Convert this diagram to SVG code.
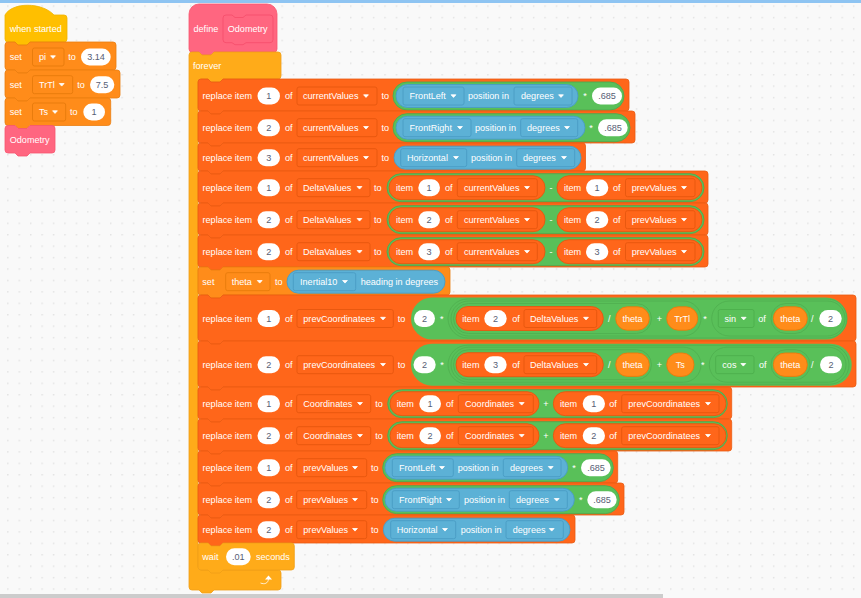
<svg xmlns="http://www.w3.org/2000/svg" width="861" height="598" viewBox="0 0 861 598">
<style>
text{font-family:"Liberation Sans",Arial,sans-serif;font-size:9.1px;fill:#fff}
text.n{fill:#575e75;text-anchor:middle}
text.m{text-anchor:middle}
path{stroke-width:.8}
.L{fill:#ff661a;stroke:#ea5c13}
.V{fill:#ff8c1a;stroke:#ea7d10}
.C{fill:#ffab19;stroke:#f0a016}
.E{fill:#ffbf00;stroke:#f0b400}
.P{fill:#ff6680;stroke:#f7566f}
rect{stroke-width:.9}
.v{y:-8.5px;height:17px;rx:8.5px;ry:8.5px;fill:#fff;stroke:none}
.dl,.dv,.ds,.dg{y:-9px;height:18px;rx:2px;ry:2px}
.dl{fill:#ff661a;stroke:#e6570f}
.dv{fill:#ff8c1a;stroke:#e67a0c}
.ds{fill:#5cb1d6;stroke:#4a9cc4}
.dg{fill:#59c059;stroke:#4caf4c}
.gp{y:-14px;height:28px;rx:14px;ry:14px;fill:#59c059;stroke:#4fa84f}
.bp{y:-11.5px;height:23px;rx:11.5px;ry:11.5px;fill:#5cb1d6;stroke:#4a9cc4}
.op{y:-12px;height:24px;rx:12px;ry:12px;fill:#ff661a;stroke:#e6570f}
.vr{y:-11.7px;height:23.4px;rx:11.7px;ry:11.7px;fill:#ff8c1a;stroke:#e67a0c}
.gb{y:-21px;height:42px;rx:21px;ry:21px;fill:#59c059;stroke:none}
.g1{y:-19.5px;height:39px;rx:19.5px;ry:19.5px;fill:#59c059;stroke:#50b050}
.g2{y:-17.5px;height:35px;rx:17.5px;ry:17.5px;fill:#59c059;stroke:#50b050}
.g3{y:-15px;height:30px;rx:15px;ry:15px;fill:#59c059;stroke:#50b050}
</style>
<defs>
<pattern id="dots" width="11.43" height="11.43" patternUnits="userSpaceOnUse" x="7.1" y="5.4"><rect x=".1" y=".1" width="1.3" height="1.3" fill="#dcdcdc"/></pattern>
<path id="a" d="M-2.4-1.2H2.4L0 1.4z" fill="#fff" stroke="#fff" stroke-width=".8" stroke-linejoin="round"/>
</defs>
<rect width="861" height="598" fill="#f9f9f9"/>
<rect width="861" height="598" fill="url(#dots)"/>
<rect width="861" height="3" fill="#8ec4f2"/>
<rect y="594" width="663" height="4" fill="#cccccc"/>

<g id="when-started"><path class="E" d="M5 15C12 2 42 2 54 15H64a3 3 0 0 1 3 3V39a3 3 0 0 1-3 3H30l-3 3h-9l-3-3H8a3 3 0 0 1-3-3z"/><text x="9.7" y="32">when started</text></g>
<g id="set-pi"><path class="V" d="M5 45a3 3 0 0 1 3-3h7l3 3h9l3-3H113a3 3 0 0 1 3 3V67a3 3 0 0 1-3 3H30l-3 3h-9l-3-3H8a3 3 0 0 1-3-3z"/><g transform="translate(0,57)"><text x="9.7" y="3">set</text><rect class="dv" x="32.5" width="31.5"/><text x="39" y="3">pi</text><use href="#a" x="53"/><text x="68.3" y="3">to</text><rect class="v" x="81" width="29.7"/><text class="n" x="96" y="3">3.14</text></g></g>
<g id="set-trtl"><path class="V" d="M5 73a3 3 0 0 1 3-3h7l3 3h9l3-3H117a3 3 0 0 1 3 3V95a3 3 0 0 1-3 3H30l-3 3h-9l-3-3H8a3 3 0 0 1-3-3z"/><g transform="translate(0,84.7)"><text x="9.7" y="3">set</text><rect class="dv" x="32.5" width="40.2"/><text x="39" y="3">TrTl</text><use href="#a" x="61.7"/><text x="77.3" y="3">to</text><rect class="v" x="90" width="24.3"/><text class="n" x="102" y="3">7.5</text></g></g>
<g id="set-ts"><path class="V" d="M5 101a3 3 0 0 1 3-3h7l3 3h9l3-3H107.700a3 3 0 0 1 3 3V122.500a3 3 0 0 1-3 3H30l-3 3h-9l-3-3H8a3 3 0 0 1-3-3z"/><g transform="translate(0,112)"><text x="9.7" y="3">set</text><rect class="dv" x="32.5" width="33.2"/><text x="39" y="3">Ts</text><use href="#a" x="55"/><text x="70" y="3">to</text><rect class="v" x="83.3" width="21.7"/><text class="n" x="94" y="3">1</text></g></g>
<g id="call-odometry"><path class="P" d="M5 128.500a3 3 0 0 1 3-3h7l3 3h9l3-3H52a3 3 0 0 1 3 3V150a3 3 0 0 1-3 3H30l-3 3h-9l-3-3H8a3 3 0 0 1-3-3z"/><text x="9.7" y="142.700">Odometry</text></g>

<g id="define"><path class="P" d="M189 14a10 10 0 0 1 10-10H267a10 10 0 0 1 10 10V49a3 3 0 0 1-3 3H214l-3 3h-9l-3-3H192a3 3 0 0 1-3-3z"/><text x="193.500" y="32">define</text><path d="M226 15h6l3 2.500h8l3-2.500h24a3 3 0 0 1 3 3V39.700a3 3 0 0 1-3 3H246l-3 2h-8l-3-2H226a3 3 0 0 1-3-3V18a3 3 0 0 1 3-3z" fill="#ff6680" stroke="#f54d6a"/><text x="227.700" y="32">Odometry</text></g>

<g id="forever"><path class="C" d="M189 55a3 3 0 0 1 3-3h7l3 3h9l3-3H278a3 3 0 0 1 3 3V76a3 3 0 0 1-3 3H223l-3 3h-9l-3-3H201a3 3 0 0 0-3 3V567a3 3 0 0 0 3 3H278a3 3 0 0 1 3 3V587a3 3 0 0 1-3 3H214l-3 3h-9l-3-3H192a3 3 0 0 1-3-3z"/><text x="193" y="69">forever</text><path d="M260.500 583c4 1.600 7.500 .5 8-4" fill="none" stroke="#fff" stroke-width="1.800"/><path d="M265 579.500l3.500-4 3.500 4z" fill="#fff"/></g>

<g id="replace-1"><path class="L" d="M198 82a3 3 0 0 1 3-3h7l3 3h9l3-3H626a3 3 0 0 1 3 3V108a3 3 0 0 1-3 3H223l-3 3h-9l-3-3h-7a3 3 0 0 1-3-3z"/><g transform="translate(0,96)"><text x="202.500" y="3">replace item</text><rect class="v" x="257.500" width="22.500"/><text class="n" x="268.700" y="3">1</text><text x="285" y="3">of</text><rect class="dl" x="297" width="80"/><text x="303" y="3">currentValues</text><use href="#a" x="366"/><text x="381.500" y="3">to</text><rect class="gp" x="393" width="231"/><rect class="bp" x="396" width="182"/><rect class="ds" x="403" width="61"/><text x="409.500" y="3">FrontLeft</text><use href="#a" x="453.500"/><text x="468" y="3">position in</text><rect class="ds" x="514" width="58"/><text x="521" y="3">degrees</text><use href="#a" x="561"/><text class="m" x="585" y="3">*</text><rect class="v" x="592" width="30"/><text class="n" x="607" y="3">.685</text></g></g>
<g id="replace-2"><path class="L" d="M198 114a3 3 0 0 1 3-3h7l3 3h9l3-3H632a3 3 0 0 1 3 3V140a3 3 0 0 1-3 3H223l-3 3h-9l-3-3h-7a3 3 0 0 1-3-3z"/><g transform="translate(0,127.700)"><text x="202.500" y="3">replace item</text><rect class="v" x="257.500" width="22.500"/><text class="n" x="268.700" y="3">2</text><text x="285" y="3">of</text><rect class="dl" x="297" width="80"/><text x="303" y="3">currentValues</text><use href="#a" x="366"/><text x="381.500" y="3">to</text><rect class="gp" x="393" width="237"/><rect class="bp" x="396" width="189"/><rect class="ds" x="403" width="68"/><text x="409.500" y="3">FrontRight</text><use href="#a" x="460"/><text x="475" y="3">position in</text><rect class="ds" x="520.700" width="57"/><text x="527" y="3">degrees</text><use href="#a" x="567"/><text class="m" x="591" y="3">*</text><rect class="v" x="598" width="29.700"/><text class="n" x="613" y="3">.685</text></g></g>
<g id="replace-3"><path class="L" d="M198 146a3 3 0 0 1 3-3h7l3 3h9l3-3H582.500a3 3 0 0 1 3 3V168a3 3 0 0 1-3 3H223l-3 3h-9l-3-3h-7a3 3 0 0 1-3-3z"/><g transform="translate(0,157.700)"><text x="202.500" y="3">replace item</text><rect class="v" x="257.500" width="22.500"/><text class="n" x="268.700" y="3">3</text><text x="285" y="3">of</text><rect class="dl" x="297" width="80"/><text x="303" y="3">currentValues</text><use href="#a" x="366"/><text x="381.500" y="3">to</text><rect class="bp" x="394" width="187"/><rect class="ds" x="400.700" width="66"/><text x="407" y="3">Horizontal</text><use href="#a" x="456"/><text x="471" y="3">position in</text><rect class="ds" x="516.700" width="58"/><text x="523" y="3">degrees</text><use href="#a" x="564"/></g></g>
<g id="replace-4"><path class="L" d="M198 174a3 3 0 0 1 3-3h7l3 3h9l3-3H705a3 3 0 0 1 3 3V200a3 3 0 0 1-3 3H223l-3 3h-9l-3-3h-7a3 3 0 0 1-3-3z"/><g transform="translate(0,187.700)"><text x="202.500" y="3">replace item</text><rect class="v" x="257.500" width="22.500"/><text class="n" x="268.700" y="3">1</text><text x="285" y="3">of</text><rect class="dl" x="297" width="73"/><text x="303" y="3">DeltaValues</text><use href="#a" x="359.500"/><text x="374" y="3">to</text><rect class="gp" x="387" width="317"/><rect class="op" x="389" width="156"/><text x="396" y="3">item</text><rect class="v" x="418.300" width="21.700"/><text class="n" x="429" y="3">1</text><text x="445" y="3">of</text><rect class="dl" x="457.300" width="80"/><text x="464" y="3">currentValues</text><use href="#a" x="527"/><text class="m" x="551" y="3">-</text><rect class="op" x="557" width="145"/><text x="564" y="3">item</text><rect class="v" x="586" width="22.300"/><text class="n" x="597" y="3">1</text><text x="613" y="3">of</text><rect class="dl" x="625.500" width="69.500"/><text x="631.700" y="3">prevValues</text><use href="#a" x="684"/></g></g>
<g id="replace-5"><path class="L" d="M198 206a3 3 0 0 1 3-3h7l3 3h9l3-3H705a3 3 0 0 1 3 3V232a3 3 0 0 1-3 3H223l-3 3h-9l-3-3h-7a3 3 0 0 1-3-3z"/><g transform="translate(0,219.700)"><text x="202.500" y="3">replace item</text><rect class="v" x="257.500" width="22.500"/><text class="n" x="268.700" y="3">2</text><text x="285" y="3">of</text><rect class="dl" x="297" width="73"/><text x="303" y="3">DeltaValues</text><use href="#a" x="359.500"/><text x="374" y="3">to</text><rect class="gp" x="387" width="317"/><rect class="op" x="389" width="156"/><text x="396" y="3">item</text><rect class="v" x="418.300" width="21.700"/><text class="n" x="429" y="3">2</text><text x="445" y="3">of</text><rect class="dl" x="457.300" width="80"/><text x="464" y="3">currentValues</text><use href="#a" x="527"/><text class="m" x="551" y="3">-</text><rect class="op" x="557" width="145"/><text x="564" y="3">item</text><rect class="v" x="586" width="22.300"/><text class="n" x="597" y="3">2</text><text x="613" y="3">of</text><rect class="dl" x="625.500" width="69.500"/><text x="631.700" y="3">prevValues</text><use href="#a" x="684"/></g></g>
<g id="replace-6"><path class="L" d="M198 238a3 3 0 0 1 3-3h7l3 3h9l3-3H705a3 3 0 0 1 3 3V264a3 3 0 0 1-3 3H223l-3 3h-9l-3-3h-7a3 3 0 0 1-3-3z"/><g transform="translate(0,251.700)"><text x="202.500" y="3">replace item</text><rect class="v" x="257.500" width="22.500"/><text class="n" x="268.700" y="3">2</text><text x="285" y="3">of</text><rect class="dl" x="297" width="73"/><text x="303" y="3">DeltaValues</text><use href="#a" x="359.500"/><text x="374" y="3">to</text><rect class="gp" x="387" width="317"/><rect class="op" x="389" width="156"/><text x="396" y="3">item</text><rect class="v" x="418.300" width="21.700"/><text class="n" x="429" y="3">3</text><text x="445" y="3">of</text><rect class="dl" x="457.300" width="80"/><text x="464" y="3">currentValues</text><use href="#a" x="527"/><text class="m" x="551" y="3">-</text><rect class="op" x="557" width="145"/><text x="564" y="3">item</text><rect class="v" x="586" width="22.300"/><text class="n" x="597" y="3">3</text><text x="613" y="3">of</text><rect class="dl" x="625.500" width="69.500"/><text x="631.700" y="3">prevValues</text><use href="#a" x="684"/></g></g>
<g id="set-theta"><path class="V" d="M198 270a3 3 0 0 1 3-3h7l3 3h9l3-3H447a3 3 0 0 1 3 3V292a3 3 0 0 1-3 3H223l-3 3h-9l-3-3h-7a3 3 0 0 1-3-3z"/><g transform="translate(0,281.700)"><text x="202.300" y="3">set</text><rect class="dv" x="225.700" width="44.300"/><text x="231.700" y="3">theta</text><use href="#a" x="259.700"/><text x="275" y="3">to</text><rect class="bp" x="287" width="158"/><rect class="ds" x="293.300" width="62.400"/><text x="300" y="3">Inertial10</text><use href="#a" x="345"/><text x="360.700" y="3">heading in degrees</text></g></g>
<g id="replace-7"><path class="L" d="M198 298a3 3 0 0 1 3-3h7l3 3h9l3-3H853a3 3 0 0 1 3 3V338a3 3 0 0 1-3 3H223l-3 3h-9l-3-3h-7a3 3 0 0 1-3-3z"/><g transform="translate(0,318.500)"><text x="202.500" y="3">replace item</text><rect class="v" x="257.500" width="22.500"/><text class="n" x="268.700" y="3">1</text><text x="285" y="3">of</text><rect class="dl" x="297" width="96.300"/><text x="303.300" y="3">prevCoordinatees</text><use href="#a" x="383"/><text x="397.700" y="3">to</text><rect class="gb" x="411" width="436"/><rect class="v" x="414" width="21"/><text class="n" x="424.500" y="3">2</text><text class="m" x="441.700" y="3">*</text><rect class="g1" x="448" width="399"/><rect class="g2" x="451" width="250"/><rect class="g3" x="453.500" width="198"/><rect class="op" x="456" width="147.300"/><text x="462.300" y="3">item</text><rect class="v" x="484.300" width="22.400"/><text class="n" x="495.500" y="3">2</text><text x="512.300" y="3">of</text><rect class="dl" x="524" width="72.700"/><text x="530" y="3">DeltaValues</text><use href="#a" x="586"/><text class="m" x="609.300" y="3">/</text><rect class="vr" x="615.700" width="33.600"/><text class="m" x="632.500" y="3">theta</text><text class="m" x="659.300" y="3">+</text><rect class="vr" x="666.700" width="31"/><text class="m" x="682.200" y="3">TrTl</text><text class="m" x="705" y="3">*</text><rect class="g2" x="711.700" width="133.300"/><rect class="dg" x="718.300" width="35.700"/><text x="724.500" y="3">sin</text><use href="#a" x="743.700"/><text x="758.300" y="3">of</text><rect class="g3" x="771" width="39"/><rect class="vr" x="773.300" width="34"/><text class="m" x="790.300" y="3">theta</text><text class="m" x="812.300" y="3">/</text><rect class="v" x="819.300" width="22.400"/><text class="n" x="830.500" y="3">2</text></g></g>
<g id="replace-8"><path class="L" d="M198 344a3 3 0 0 1 3-3h7l3 3h9l3-3H853a3 3 0 0 1 3 3V384a3 3 0 0 1-3 3H223l-3 3h-9l-3-3h-7a3 3 0 0 1-3-3z"/><g transform="translate(0,364.700)"><text x="202.500" y="3">replace item</text><rect class="v" x="257.500" width="22.500"/><text class="n" x="268.700" y="3">2</text><text x="285" y="3">of</text><rect class="dl" x="297" width="96.300"/><text x="303.300" y="3">prevCoordinatees</text><use href="#a" x="383"/><text x="397.700" y="3">to</text><rect class="gb" x="411" width="440.700"/><rect class="v" x="413.500" width="22.200"/><text class="n" x="424.500" y="3">2</text><text class="m" x="442" y="3">*</text><rect class="g1" x="448" width="401"/><rect class="g2" x="451" width="250"/><rect class="g3" x="453.500" width="198"/><rect class="op" x="456" width="147.300"/><text x="462.300" y="3">item</text><rect class="v" x="484.300" width="22.400"/><text class="n" x="495.500" y="3">3</text><text x="512.300" y="3">of</text><rect class="dl" x="524" width="72.700"/><text x="530" y="3">DeltaValues</text><use href="#a" x="586"/><text class="m" x="609.300" y="3">/</text><rect class="vr" x="615.700" width="33.600"/><text class="m" x="632.500" y="3">theta</text><text class="m" x="659.300" y="3">+</text><rect class="vr" x="666.700" width="27.300"/><text class="m" x="680.300" y="3">Ts</text><text class="m" x="702.700" y="3">*</text><rect class="g2" x="709.300" width="136.700"/><rect class="dg" x="715.700" width="38.300"/><text x="722.300" y="3">cos</text><use href="#a" x="743.300"/><text x="759" y="3">of</text><rect class="g3" x="771" width="39"/><rect class="vr" x="773.300" width="34"/><text class="m" x="790.300" y="3">theta</text><text class="m" x="812.300" y="3">/</text><rect class="v" x="820" width="22"/><text class="n" x="831" y="3">2</text></g></g>
<g id="replace-9"><path class="L" d="M198 390a3 3 0 0 1 3-3h7l3 3h9l3-3H728.700a3 3 0 0 1 3 3V416a3 3 0 0 1-3 3H223l-3 3h-9l-3-3h-7a3 3 0 0 1-3-3z"/><g transform="translate(0,403.700)"><text x="202.500" y="3">replace item</text><rect class="v" x="257.500" width="22.500"/><text class="n" x="268.700" y="3">1</text><text x="285" y="3">of</text><rect class="dl" x="296.700" width="74"/><text x="303.300" y="3">Coordinates</text><use href="#a" x="360"/><text x="375.300" y="3">to</text><rect class="gp" x="387.700" width="339.600"/><rect class="op" x="390" width="149"/><text x="396.700" y="3">item</text><rect class="v" x="419.300" width="21.700"/><text class="n" x="430" y="3">1</text><text x="446" y="3">of</text><rect class="dl" x="458.300" width="75"/><text x="465" y="3">Coordinates</text><use href="#a" x="521.700"/><text class="m" x="546" y="3">+</text><rect class="op" x="553.300" width="172.700"/><text x="560" y="3">item</text><rect class="v" x="582.700" width="22.300"/><text class="n" x="593.800" y="3">1</text><text x="609.300" y="3">of</text><rect class="dl" x="621.700" width="97.300"/><text x="628.300" y="3">prevCoordinatees</text><use href="#a" x="708"/></g></g>
<g id="replace-10"><path class="L" d="M198 422a3 3 0 0 1 3-3h7l3 3h9l3-3H728.700a3 3 0 0 1 3 3V448a3 3 0 0 1-3 3H223l-3 3h-9l-3-3h-7a3 3 0 0 1-3-3z"/><g transform="translate(0,435.700)"><text x="202.500" y="3">replace item</text><rect class="v" x="257.500" width="22.500"/><text class="n" x="268.700" y="3">2</text><text x="285" y="3">of</text><rect class="dl" x="296.700" width="74"/><text x="303.300" y="3">Coordinates</text><use href="#a" x="360"/><text x="375.300" y="3">to</text><rect class="gp" x="387.700" width="339.600"/><rect class="op" x="390" width="149"/><text x="396.700" y="3">item</text><rect class="v" x="419.300" width="21.700"/><text class="n" x="430" y="3">2</text><text x="446" y="3">of</text><rect class="dl" x="458.300" width="75"/><text x="465" y="3">Coordinates</text><use href="#a" x="521.700"/><text class="m" x="546" y="3">+</text><rect class="op" x="553.300" width="172.700"/><text x="560" y="3">item</text><rect class="v" x="582.700" width="22.300"/><text class="n" x="593.800" y="3">2</text><text x="609.300" y="3">of</text><rect class="dl" x="621.700" width="97.300"/><text x="628.300" y="3">prevCoordinatees</text><use href="#a" x="708"/></g></g>
<g id="replace-11"><path class="L" d="M198 454a3 3 0 0 1 3-3h7l3 3h9l3-3H614.700a3 3 0 0 1 3 3V480a3 3 0 0 1-3 3H223l-3 3h-9l-3-3h-7a3 3 0 0 1-3-3z"/><g transform="translate(0,467.700)"><text x="202.500" y="3">replace item</text><rect class="v" x="257.500" width="22.500"/><text class="n" x="268.700" y="3">1</text><text x="285" y="3">of</text><rect class="dl" x="296.700" width="70"/><text x="303.300" y="3">prevValues</text><use href="#a" x="355"/><text x="371" y="3">to</text><rect class="gp" x="382.700" width="230.600"/><rect class="bp" x="385" width="182.700"/><rect class="ds" x="392.300" width="61"/><text x="399" y="3">FrontLeft</text><use href="#a" x="442"/><text x="457.700" y="3">position in</text><rect class="ds" x="503.300" width="57.700"/><text x="510" y="3">degrees</text><use href="#a" x="550.700"/><text class="m" x="574" y="3">*</text><rect class="v" x="581" width="29.700"/><text class="n" x="596" y="3">.685</text></g></g>
<g id="replace-12"><path class="L" d="M198 486a3 3 0 0 1 3-3h7l3 3h9l3-3H621a3 3 0 0 1 3 3V512a3 3 0 0 1-3 3H223l-3 3h-9l-3-3h-7a3 3 0 0 1-3-3z"/><g transform="translate(0,499.700)"><text x="202.500" y="3">replace item</text><rect class="v" x="257.500" width="22.500"/><text class="n" x="268.700" y="3">2</text><text x="285" y="3">of</text><rect class="dl" x="296.700" width="70"/><text x="303.300" y="3">prevValues</text><use href="#a" x="355"/><text x="371" y="3">to</text><rect class="gp" x="382.700" width="236.600"/><rect class="bp" x="385" width="189.300"/><rect class="ds" x="392.300" width="67"/><text x="399" y="3">FrontRight</text><use href="#a" x="449"/><text x="464" y="3">position in</text><rect class="ds" x="509.300" width="58"/><text x="516" y="3">degrees</text><use href="#a" x="556.700"/><text class="m" x="580.700" y="3">*</text><rect class="v" x="587.300" width="29.400"/><text class="n" x="602" y="3">.685</text></g></g>
<g id="replace-13"><path class="L" d="M198 518a3 3 0 0 1 3-3h7l3 3h9l3-3H572a3 3 0 0 1 3 3V540a3 3 0 0 1-3 3H223l-3 3h-9l-3-3h-7a3 3 0 0 1-3-3z"/><g transform="translate(0,529.700)"><text x="202.500" y="3">replace item</text><rect class="v" x="257.500" width="22.500"/><text class="n" x="268.700" y="3">2</text><text x="285" y="3">of</text><rect class="dl" x="296.700" width="70"/><text x="303.300" y="3">prevValues</text><use href="#a" x="355"/><text x="371" y="3">to</text><rect class="bp" x="383.300" width="186.700"/><rect class="ds" x="390.700" width="65"/><text x="396.700" y="3">Horizontal</text><use href="#a" x="445"/><text x="460.700" y="3">position in</text><rect class="ds" x="506" width="57.300"/><text x="512.700" y="3">degrees</text><use href="#a" x="551.700"/></g></g>
<g id="wait"><path class="C" d="M198 546a3 3 0 0 1 3-3h7l3 3h9l3-3H291.300a3 3 0 0 1 3 3V567a3 3 0 0 1-3 3H223l-3 3h-9l-3-3h-7a3 3 0 0 1-3-3z"/><g transform="translate(0,556.700)"><text x="202.300" y="3">wait</text><rect class="v" x="226" width="24.700"/><text class="n" x="238.300" y="3">.01</text><text x="256" y="3">seconds</text></g></g>
</svg>
